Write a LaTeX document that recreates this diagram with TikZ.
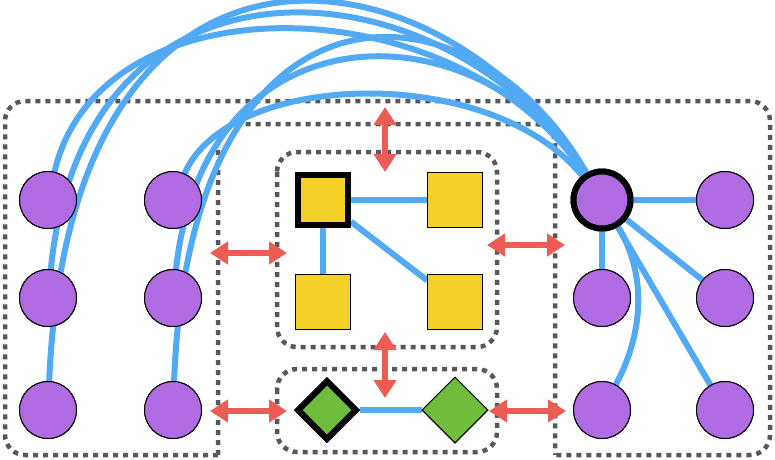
\documentclass[tikz,border=0pt]{standalone}
\usetikzlibrary{shapes.geometric, arrows.meta}
\definecolor{hub}{RGB}{176,106,226}
\definecolor{sq}{RGB}{245,208,40}
\definecolor{dm}{RGB}{112,188,60}
\definecolor{edge}{RGB}{82,170,245}
\definecolor{dots}{RGB}{85,88,92}
\definecolor{arr}{RGB}{234,92,84}
\begin{document}
\begin{tikzpicture}[x=1pt,y=-1pt,
  vert/.style={circle, draw, fill=hub, minimum size=57pt, inner sep=0pt, line width=1pt},
  box/.style={rectangle, draw, fill=sq, minimum size=55pt, inner sep=0pt, line width=1pt},
  gem/.style={diamond, draw, fill=dm, minimum size=66pt, inner sep=0pt, line width=1pt},
  key/.style={line width=6pt},
  link/.style={edge, line width=6pt},
  group/.style={dots, line width=4.5pt, dash pattern=on 5pt off 5pt, rounded corners=20pt},
  swap/.style={arr, line width=6pt, {Triangle[width=22pt,length=18pt]}-{Triangle[width=22pt,length=18pt]}}]

\useasboundingbox (0,0) rectangle (775,459);

% GROUPS

\draw[group] (218,455) -- (5,455) -- (5,101) -- (770,101) -- (770,455) -- (555,455);
\draw[group] (218,455) -- (218,124) -- (555,124) -- (555,455);
\draw[group] (277,152) rectangle (497,347);
\draw[group] (277,369) rectangle (497,452);

% NODES

\node[vert] (l1) at (48,200) {};
\node[vert] (l2) at (48,298) {};
\node[vert] (l3) at (48,410) {};
\node[vert] (m1) at (173,200) {};
\node[vert] (m2) at (173,298) {};
\node[vert] (m3) at (173,410) {};
\node[vert, key] (hub) at (602,200) {};
\node[vert] (r1) at (725,200) {};
\node[vert] (c2) at (602,298) {};
\node[vert] (r2) at (725,298) {};
\node[vert] (c3) at (602,410) {};
\node[vert] (r3) at (725,410) {};

\node[box, key, minimum size=50pt] (s1) at (323,200) {};
\node[box] (s2) at (455,200) {};
\node[box] (s3) at (323,302) {};
\node[box] (s4) at (455,302) {};

\node[gem, key, minimum size=60pt] (d1) at (327,410) {};
\node[gem] (d2) at (455,410) {};

% EDGES

\draw[link] (l3) .. controls (70,-115) and (440,-60) .. (hub);
\draw[link] (l2) .. controls (85,-75) and (450,-38) .. (hub);
\draw[link] (l1) .. controls (100,-25) and (460,-15) .. (hub);
\draw[link] (m3) .. controls (190,-40) and (470,-30) .. (hub);
\draw[link] (m2) .. controls (205,0) and (480,7) .. (hub);
\draw[link] (m1) .. controls (230,70) and (490,63) .. (hub);
\draw[link] (hub) -- (r1);
\draw[link] (hub) -- (c2);
\draw[link] (hub) .. controls (650,280) and (640,340) .. (c3);
\draw[link] (hub) -- (r2);
\draw[link] (hub) -- (r3);
\draw[link] (s1) -- (s2);
\draw[link] (s1) -- (s3);
\draw[link] (s1) -- (s4);
\draw[link] (d1) -- (d2);

% redraw nodes on top
\foreach \n in {l1,l2,l3,m1,m2,m3,r1,c2,r2,c3,r3}
  \node[vert] at (\n) {};
\node[vert, key] at (hub) {};
\node[box, key, minimum size=50pt] at (s1) {};
\node[box] at (s2) {};
\node[box] at (s3) {};
\node[box] at (s4) {};
\node[gem, key, minimum size=60pt] at (d1) {};
\node[gem] at (d2) {};

% INTERACTIONS

\draw[swap] (385,107) -- (385,172);
\draw[swap] (385,332) -- (385,398);
\draw[swap] (210,253) -- (287,253);
\draw[swap] (487,245) -- (565,245);
\draw[swap] (210,411) -- (287,411);
\draw[swap] (489,411) -- (566,411);

\end{tikzpicture}
\end{document}
